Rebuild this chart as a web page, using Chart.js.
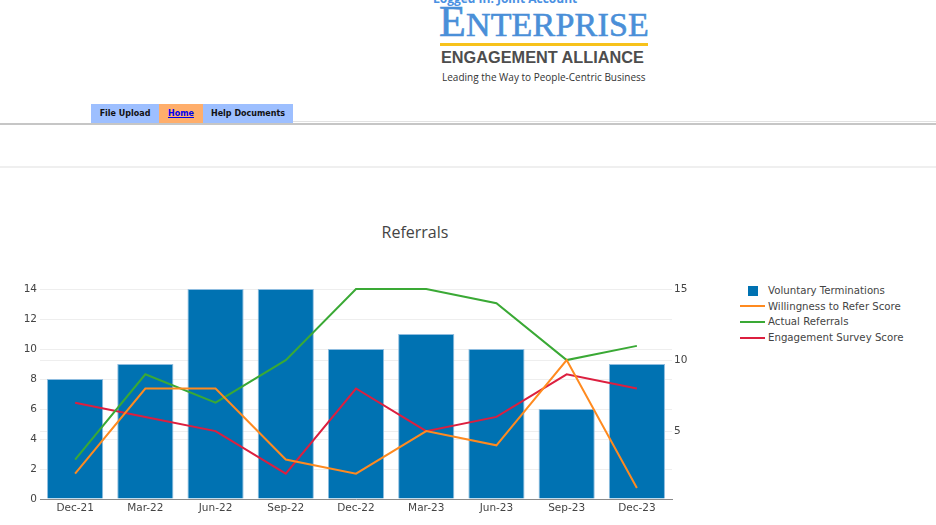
<!DOCTYPE html>
<html>
<head>
<meta charset="utf-8">
<script src="https://cdn.jsdelivr.net/npm/chart.js@4.4.1/dist/chart.umd.min.js"></script>
<style>
  body { margin: 0; width: 936px; height: 525px; overflow: hidden; background: #fff; position: relative; font-family: "DejaVu Sans", sans-serif; }
  .abs { position: absolute; }
  #logged { left: 433px; top: -10px; color: #4a90e2; font: bold 12px "Open Sans", sans-serif; white-space: nowrap; }
  #brand { left: 439px; top: 0px; color: #4a8fd8; font-family: "Liberation Serif", serif; white-space: nowrap; line-height: 1; -webkit-text-stroke: 0.6px #4a8fd8; }
  #brand .big { font-size: 44px; }
  #brand .small { font-size: 34px; letter-spacing: 0.2px; }
  #yellow { left: 440px; top: 43px; width: 208px; height: 3px; background: #f7c21b; }
  #eea { left: 441px; top: 48px; color: #4d4d4d; font: bold 16.3px "Liberation Sans", sans-serif; white-space: nowrap; }
  #tag { left: 442px; top: 70px; color: #333; font: 10px "Open Sans", sans-serif; white-space: nowrap; }
  .tab { top: 104px; height: 19px; font: bold 8px "DejaVu Sans", sans-serif; line-height: 20px; text-align: center; color: #111; }
  #nav1 { left: 91px; width: 68px; background: #9dbfff; }
  #nav2 { left: 159px; width: 44px; background: #ffae6b; }
  #nav2 a { color: #0000ee; }
  #nav3 { left: 203px; width: 90px; background: #9dbfff; }
  #rule1 { left: 0; top: 123px; width: 936px; height: 2px; background: #c6c6c6; }
  #rule0 { left: 293px; top: 121px; width: 643px; height: 1px; background: #e2e2e2; }
  #rule2 { left: 0; top: 166px; width: 936px; height: 2px; background: #efefef; }
  #title { left: 0; width: 830px; top: 221px; text-align: center; color: #444; font: 16px "Open Sans", sans-serif; }
  #chartBox { left: 0; top: 268px; width: 700px; height: 257px; }
  #legend { left: 740px; top: 283px; font: 10.2px "DejaVu Sans", sans-serif; color: #444; }
  .item { height: 15.6px; display: flex; align-items: center; white-space: nowrap; }
  .sym { width: 25px; height: 12px; margin-right: 3px; position: relative; }
  .sym.bar::after { content: ""; position: absolute; left: 8px; top: 1px; width: 10px; height: 10px; background: var(--c); }
  .sym.line::after { content: ""; position: absolute; left: 0; top: 5px; width: 25px; height: 2px; background: var(--c); }
</style>
</head>
<body>
<div class="abs" id="logged">Logged In: Joint Account</div>
<div class="abs" id="brand"><span class="big">E</span><span class="small">NTERPRISE</span></div>
<div class="abs" id="yellow"></div>
<div class="abs" id="eea">ENGAGEMENT ALLIANCE</div>
<div class="abs" id="tag">Leading the Way to People-Centric Business</div>

<div class="abs tab" id="nav1">File Upload</div>
<div class="abs tab" id="nav2"><a href="#">Home</a></div>
<div class="abs tab" id="nav3">Help Documents</div>
<div class="abs" id="rule0"></div>
<div class="abs" id="rule1"></div>
<div class="abs" id="rule2"></div>

<div class="abs" id="title">Referrals</div>
<div class="abs" id="chartBox"><canvas id="referralsChart" width="700" height="257"></canvas></div>
<div class="abs" id="legend"></div>

<script>
// quarters on the x axis
const quarters = ['Dec-21', 'Mar-22', 'Jun-22', 'Sep-22', 'Dec-22', 'Mar-23', 'Jun-23', 'Sep-23', 'Dec-23'];

// series
const voluntaryTerminations = [8, 9, 14, 14, 10, 11, 10, 6, 9];
const willingnessToRefer = [2, 8, 8, 3, 2, 5, 4, 10, 1];
const actualReferrals = [3, 9, 7, 10, 15, 15, 14, 10, 11];
const engagementSurvey = [7, 6, 5, 2, 8, 5, 6, 9, 8];

// tick labels
const leftTicks = [0, 2, 4, 6, 8, 10, 12, 14];
const rightTicks = [5, 10, 15];

const tickFont = { family: 'DejaVu Sans', size: 10.5 };

const ctx = document.getElementById('referralsChart').getContext('2d');
const chart = new Chart(ctx, {
    type: 'bar',
    data: {
        labels: quarters,
        datasets: [
            {
                type: 'bar',
                label: 'Voluntary Terminations',
                data: voluntaryTerminations,
                backgroundColor: '#0072b2',
                borderColor: '#8fbde0',
                borderWidth: 1,
                yAxisID: 'y',
                order: 2
            },
            {
                type: 'line',
                label: 'Willingness to Refer Score',
                data: willingnessToRefer,
                borderColor: '#ff8a1f',
                backgroundColor: '#ff8a1f',
                borderWidth: 2,
                pointRadius: 0,
                yAxisID: 'y2',
                order: 1
            },
            {
                type: 'line',
                label: 'Actual Referrals',
                data: actualReferrals,
                borderColor: '#3aa935',
                backgroundColor: '#3aa935',
                borderWidth: 2,
                pointRadius: 0,
                yAxisID: 'y2',
                order: 1
            },
            {
                type: 'line',
                label: 'Engagement Survey Score',
                data: engagementSurvey,
                borderColor: '#dc1f3f',
                backgroundColor: '#dc1f3f',
                borderWidth: 2,
                pointRadius: 0,
                yAxisID: 'y2',
                order: 1
            }
        ]
    },
    options: {
        responsive: false,
        animation: false,
        layout: { padding: { top: 10, left: 0, right: 0, bottom: 0 } },
        datasets: { bar: { categoryPercentage: 1, barPercentage: 0.8 } },
        scales: {
            x: {
                grid: { display: false, drawTicks: false },
                border: { display: true, color: '#8a8a8a', width: 1 },
                ticks: { font: tickFont, color: '#444', padding: 3, maxRotation: 0 },
                afterFit: scale => { scale.height = 26; }
            },
            y: {
                position: 'left',
                min: 0,
                max: 14.74,
                grid: { color: '#eeeeee', drawTicks: false },
                border: { display: false },
                ticks: { font: tickFont, color: '#444', padding: 3 },
                afterBuildTicks: scale => { scale.ticks = leftTicks.map(v => ({ value: v })); },
                afterFit: scale => { scale.width = 40; }
            },
            y2: {
                position: 'right',
                min: 0.22,
                max: 15.78,
                grid: { color: '#eeeeee', drawTicks: false },
                border: { display: false },
                ticks: { font: tickFont, color: '#444', padding: 2 },
                afterBuildTicks: scale => { scale.ticks = rightTicks.map(v => ({ value: v })); },
                afterFit: scale => { scale.width = 28; }
            }
        },
        plugins: {
            legend: { display: false },
            tooltip: { enabled: false }
        }
    }
});

// legend built from the chart's datasets
const legend = document.getElementById('legend');
chart.data.datasets.forEach(ds => {
    const item = document.createElement('div');
    item.className = 'item';
    const sym = document.createElement('span');
    sym.className = 'sym ' + (ds.type === 'bar' ? 'bar' : 'line');
    sym.style.setProperty('--c', ds.type === 'bar' ? ds.backgroundColor : ds.borderColor);
    const txt = document.createElement('span');
    txt.textContent = ds.label;
    item.appendChild(sym);
    item.appendChild(txt);
    legend.appendChild(item);
});
</script>
</body>
</html>
